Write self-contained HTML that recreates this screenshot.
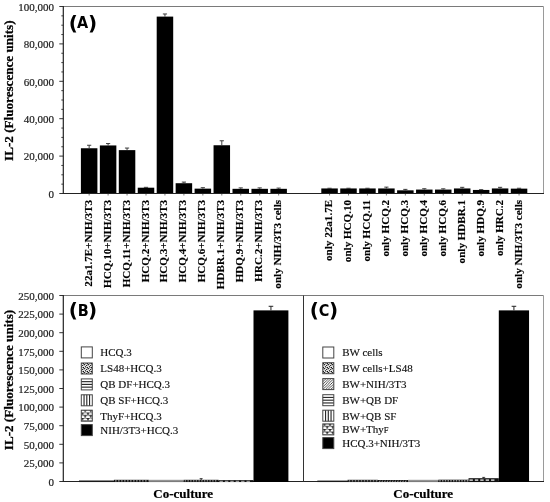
<!DOCTYPE html>
<html><head><meta charset="utf-8"><title>IL-2 co-culture</title>
<style>html,body{margin:0;padding:0;background:#fff}svg{display:block}.tk{font:11px "Liberation Serif",serif;fill:#222;stroke:#222;stroke-width:0.2;text-anchor:end}.xl{font:bold 11.1px "Liberation Serif",serif;fill:#000;stroke:#000;stroke-width:0.15}.yl{font:bold 13px "Liberation Serif",serif;fill:#000;stroke:#000;stroke-width:0.25}.cc{font:bold 13px "Liberation Serif",serif;fill:#000;stroke:#000;stroke-width:0.2;text-anchor:middle}.lg{font:11px "Liberation Serif",serif;fill:#111;stroke:#111;stroke-width:0.15}.pn{font:bold 16px "DejaVu Sans Condensed","DejaVu Sans","Liberation Sans",sans-serif;fill:#000}.pp{font:bold 20px "DejaVu Sans","Liberation Sans",sans-serif}</style></head><body>
<svg width="550" height="502" viewBox="0 0 550 502">
<defs>
<pattern id="pdot" width="4" height="4" patternUnits="userSpaceOnUse"><rect width="4" height="4" fill="#fff"/><rect x="0" y="0.1" width="1.3" height="1.2" fill="#111"/><rect x="2.1" y="0.9" width="1.2" height="1.2" fill="#111"/><rect x="0.8" y="2.2" width="1.2" height="1.2" fill="#111"/><rect x="2.9" y="2.9" width="1.1" height="1.1" fill="#111"/><rect x="1.9" y="3.3" width="0.8" height="0.7" fill="#333"/><rect x="3.3" y="0" width="0.7" height="0.7" fill="#333"/></pattern>
<pattern id="phor" width="4" height="2.75" patternUnits="userSpaceOnUse"><rect width="4" height="2.75" fill="#fff"/><rect y="0" width="4" height="1" fill="#333"/></pattern>
<pattern id="pver" width="2.75" height="4" patternUnits="userSpaceOnUse"><rect width="2.75" height="4" fill="#fff"/><rect x="0" width="1" height="4" fill="#333"/></pattern>
<pattern id="pdia" width="2.6" height="2.6" patternUnits="userSpaceOnUse"><rect width="2.6" height="2.6" fill="#fff"/><path d="M-1 1 L1 -1 M-1 3.6 L3.6 -1 M1.6 3.6 L3.6 1.6" stroke="#333" stroke-width="0.85"/></pattern>
<pattern id="pshi" width="5.5" height="5.5" patternUnits="userSpaceOnUse"><rect width="5.5" height="5.5" fill="#222"/><path d="M0.4 2.6 A2.3 2.3 0 0 1 5.1 2.6 Z" fill="#fff"/><path d="M-2.35 5.4 A2.3 2.3 0 0 1 2.35 5.4 Z M3.15 5.4 A2.3 2.3 0 0 1 7.85 5.4 Z" fill="#fff"/></pattern>
</defs>
<rect width="550" height="502" fill="#fff"/>
<line x1="63.30" y1="6.50" x2="543.50" y2="6.50" stroke="#7a7a7a" stroke-width="1"/>
<line x1="543.50" y1="6.50" x2="543.50" y2="193.50" stroke="#9a9a9a" stroke-width="1"/>
<line x1="59.30" y1="193.50" x2="63.30" y2="193.50" stroke="#333" stroke-width="1"/>
<text class="tk" x="54" y="197.70">0</text>
<line x1="61.30" y1="184.15" x2="63.30" y2="184.15" stroke="#444" stroke-width="1"/>
<line x1="61.30" y1="174.80" x2="63.30" y2="174.80" stroke="#444" stroke-width="1"/>
<line x1="61.30" y1="165.45" x2="63.30" y2="165.45" stroke="#444" stroke-width="1"/>
<line x1="59.30" y1="156.10" x2="63.30" y2="156.10" stroke="#333" stroke-width="1"/>
<text class="tk" x="54" y="160.30">20,000</text>
<line x1="61.30" y1="146.75" x2="63.30" y2="146.75" stroke="#444" stroke-width="1"/>
<line x1="61.30" y1="137.40" x2="63.30" y2="137.40" stroke="#444" stroke-width="1"/>
<line x1="61.30" y1="128.05" x2="63.30" y2="128.05" stroke="#444" stroke-width="1"/>
<line x1="59.30" y1="118.70" x2="63.30" y2="118.70" stroke="#333" stroke-width="1"/>
<text class="tk" x="54" y="122.90">40,000</text>
<line x1="61.30" y1="109.35" x2="63.30" y2="109.35" stroke="#444" stroke-width="1"/>
<line x1="61.30" y1="100.00" x2="63.30" y2="100.00" stroke="#444" stroke-width="1"/>
<line x1="61.30" y1="90.65" x2="63.30" y2="90.65" stroke="#444" stroke-width="1"/>
<line x1="59.30" y1="81.30" x2="63.30" y2="81.30" stroke="#333" stroke-width="1"/>
<text class="tk" x="54" y="85.50">60,000</text>
<line x1="61.30" y1="71.95" x2="63.30" y2="71.95" stroke="#444" stroke-width="1"/>
<line x1="61.30" y1="62.60" x2="63.30" y2="62.60" stroke="#444" stroke-width="1"/>
<line x1="61.30" y1="53.25" x2="63.30" y2="53.25" stroke="#444" stroke-width="1"/>
<line x1="59.30" y1="43.90" x2="63.30" y2="43.90" stroke="#333" stroke-width="1"/>
<text class="tk" x="54" y="48.10">80,000</text>
<line x1="61.30" y1="34.55" x2="63.30" y2="34.55" stroke="#444" stroke-width="1"/>
<line x1="61.30" y1="25.20" x2="63.30" y2="25.20" stroke="#444" stroke-width="1"/>
<line x1="61.30" y1="15.85" x2="63.30" y2="15.85" stroke="#444" stroke-width="1"/>
<line x1="59.30" y1="6.50" x2="63.30" y2="6.50" stroke="#333" stroke-width="1"/>
<text class="tk" x="54" y="10.70">100,000</text>
<rect x="80.90" y="148.25" width="16.50" height="45.75" fill="#000"/>
<line x1="89.15" y1="145.25" x2="89.15" y2="148.25" stroke="#2a2a2a" stroke-width="0.9"/>
<line x1="87.05" y1="145.25" x2="91.25" y2="145.25" stroke="#2a2a2a" stroke-width="0.9"/>
<line x1="89.15" y1="193.50" x2="89.15" y2="195.50" stroke="#666" stroke-width="0.9"/>
<text class="xl" text-anchor="end" transform="translate(91.65,199.9) rotate(-90)">22a1.7E+NIH/3T3</text>
<rect x="99.85" y="145.44" width="16.50" height="48.56" fill="#000"/>
<line x1="108.10" y1="143.57" x2="108.10" y2="145.44" stroke="#2a2a2a" stroke-width="0.9"/>
<line x1="106.00" y1="143.57" x2="110.20" y2="143.57" stroke="#2a2a2a" stroke-width="0.9"/>
<line x1="108.10" y1="193.50" x2="108.10" y2="195.50" stroke="#666" stroke-width="0.9"/>
<text class="xl" text-anchor="end" transform="translate(110.60,199.9) rotate(-90)">HCQ.10+NIH/3T3</text>
<rect x="118.80" y="150.12" width="16.50" height="43.88" fill="#000"/>
<line x1="127.05" y1="148.06" x2="127.05" y2="150.12" stroke="#2a2a2a" stroke-width="0.9"/>
<line x1="124.95" y1="148.06" x2="129.15" y2="148.06" stroke="#2a2a2a" stroke-width="0.9"/>
<line x1="127.05" y1="193.50" x2="127.05" y2="195.50" stroke="#666" stroke-width="0.9"/>
<text class="xl" text-anchor="end" transform="translate(129.55,199.9) rotate(-90)">HCQ.11+NIH/3T3</text>
<rect x="137.75" y="187.70" width="16.50" height="6.30" fill="#000"/>
<line x1="146.00" y1="187.33" x2="146.00" y2="187.70" stroke="#2a2a2a" stroke-width="0.9"/>
<line x1="143.90" y1="187.33" x2="148.10" y2="187.33" stroke="#2a2a2a" stroke-width="0.9"/>
<line x1="146.00" y1="193.50" x2="146.00" y2="195.50" stroke="#666" stroke-width="0.9"/>
<text class="xl" text-anchor="end" transform="translate(148.50,199.9) rotate(-90)">HCQ.2+NIH/3T3</text>
<rect x="156.70" y="16.60" width="16.50" height="177.40" fill="#000"/>
<line x1="164.95" y1="13.98" x2="164.95" y2="16.60" stroke="#2a2a2a" stroke-width="0.9"/>
<line x1="162.85" y1="13.98" x2="167.05" y2="13.98" stroke="#2a2a2a" stroke-width="0.9"/>
<line x1="164.95" y1="193.50" x2="164.95" y2="195.50" stroke="#666" stroke-width="0.9"/>
<text class="xl" text-anchor="end" transform="translate(167.45,199.9) rotate(-90)">HCQ.3+NIH/3T3</text>
<rect x="175.65" y="183.22" width="16.50" height="10.78" fill="#000"/>
<line x1="183.90" y1="182.09" x2="183.90" y2="183.22" stroke="#2a2a2a" stroke-width="0.9"/>
<line x1="181.80" y1="182.09" x2="186.00" y2="182.09" stroke="#2a2a2a" stroke-width="0.9"/>
<line x1="183.90" y1="193.50" x2="183.90" y2="195.50" stroke="#666" stroke-width="0.9"/>
<text class="xl" text-anchor="end" transform="translate(186.40,199.9) rotate(-90)">HCQ.4+NIH/3T3</text>
<rect x="194.60" y="188.64" width="16.50" height="5.36" fill="#000"/>
<line x1="202.85" y1="187.70" x2="202.85" y2="188.64" stroke="#2a2a2a" stroke-width="0.9"/>
<line x1="200.75" y1="187.70" x2="204.95" y2="187.70" stroke="#2a2a2a" stroke-width="0.9"/>
<line x1="202.85" y1="193.50" x2="202.85" y2="195.50" stroke="#666" stroke-width="0.9"/>
<text class="xl" text-anchor="end" transform="translate(205.35,199.9) rotate(-90)">HCQ.6+NIH/3T3</text>
<rect x="213.55" y="145.25" width="16.50" height="48.75" fill="#000"/>
<line x1="221.80" y1="140.77" x2="221.80" y2="145.25" stroke="#2a2a2a" stroke-width="0.9"/>
<line x1="219.70" y1="140.77" x2="223.90" y2="140.77" stroke="#2a2a2a" stroke-width="0.9"/>
<line x1="221.80" y1="193.50" x2="221.80" y2="195.50" stroke="#666" stroke-width="0.9"/>
<text class="xl" text-anchor="end" transform="translate(224.30,199.9) rotate(-90)">HDBR.1+NIH/3T3</text>
<rect x="232.50" y="188.82" width="16.50" height="5.18" fill="#000"/>
<line x1="240.75" y1="187.89" x2="240.75" y2="188.82" stroke="#2a2a2a" stroke-width="0.9"/>
<line x1="238.65" y1="187.89" x2="242.85" y2="187.89" stroke="#2a2a2a" stroke-width="0.9"/>
<line x1="240.75" y1="193.50" x2="240.75" y2="195.50" stroke="#666" stroke-width="0.9"/>
<text class="xl" text-anchor="end" transform="translate(243.25,199.9) rotate(-90)">HDQ.9+NIH/3T3</text>
<rect x="251.45" y="188.82" width="16.50" height="5.18" fill="#000"/>
<line x1="259.70" y1="187.89" x2="259.70" y2="188.82" stroke="#2a2a2a" stroke-width="0.9"/>
<line x1="257.60" y1="187.89" x2="261.80" y2="187.89" stroke="#2a2a2a" stroke-width="0.9"/>
<line x1="259.70" y1="193.50" x2="259.70" y2="195.50" stroke="#666" stroke-width="0.9"/>
<text class="xl" text-anchor="end" transform="translate(262.20,199.9) rotate(-90)">HRC.2+NIH/3T3</text>
<rect x="270.40" y="188.82" width="16.50" height="5.18" fill="#000"/>
<line x1="278.65" y1="188.08" x2="278.65" y2="188.82" stroke="#2a2a2a" stroke-width="0.9"/>
<line x1="276.55" y1="188.08" x2="280.75" y2="188.08" stroke="#2a2a2a" stroke-width="0.9"/>
<line x1="278.65" y1="193.50" x2="278.65" y2="195.50" stroke="#666" stroke-width="0.9"/>
<text class="xl" text-anchor="end" transform="translate(281.15,199.9) rotate(-90)">only NIH/3T3 cells</text>
<rect x="321.30" y="188.45" width="16.50" height="5.55" fill="#000"/>
<line x1="329.55" y1="188.26" x2="329.55" y2="188.45" stroke="#2a2a2a" stroke-width="0.9"/>
<line x1="327.45" y1="188.26" x2="331.65" y2="188.26" stroke="#2a2a2a" stroke-width="0.9"/>
<line x1="329.55" y1="193.50" x2="329.55" y2="195.50" stroke="#666" stroke-width="0.9"/>
<text class="xl" text-anchor="end" transform="translate(332.05,199.9) rotate(-90)">only 22a1.7E</text>
<rect x="340.25" y="188.45" width="16.50" height="5.55" fill="#000"/>
<line x1="348.50" y1="188.26" x2="348.50" y2="188.45" stroke="#2a2a2a" stroke-width="0.9"/>
<line x1="346.40" y1="188.26" x2="350.60" y2="188.26" stroke="#2a2a2a" stroke-width="0.9"/>
<line x1="348.50" y1="193.50" x2="348.50" y2="195.50" stroke="#666" stroke-width="0.9"/>
<text class="xl" text-anchor="end" transform="translate(351.00,199.9) rotate(-90)">only HCQ.10</text>
<rect x="359.20" y="188.45" width="16.50" height="5.55" fill="#000"/>
<line x1="367.45" y1="188.26" x2="367.45" y2="188.45" stroke="#2a2a2a" stroke-width="0.9"/>
<line x1="365.35" y1="188.26" x2="369.55" y2="188.26" stroke="#2a2a2a" stroke-width="0.9"/>
<line x1="367.45" y1="193.50" x2="367.45" y2="195.50" stroke="#666" stroke-width="0.9"/>
<text class="xl" text-anchor="end" transform="translate(369.95,199.9) rotate(-90)">only HCQ.11</text>
<rect x="378.15" y="188.45" width="16.50" height="5.55" fill="#000"/>
<line x1="386.40" y1="187.14" x2="386.40" y2="188.45" stroke="#2a2a2a" stroke-width="0.9"/>
<line x1="384.30" y1="187.14" x2="388.50" y2="187.14" stroke="#2a2a2a" stroke-width="0.9"/>
<line x1="386.40" y1="193.50" x2="386.40" y2="195.50" stroke="#666" stroke-width="0.9"/>
<text class="xl" text-anchor="end" transform="translate(388.90,199.9) rotate(-90)">only HCQ.2</text>
<rect x="397.10" y="190.32" width="16.50" height="3.68" fill="#000"/>
<line x1="405.35" y1="189.39" x2="405.35" y2="190.32" stroke="#2a2a2a" stroke-width="0.9"/>
<line x1="403.25" y1="189.39" x2="407.45" y2="189.39" stroke="#2a2a2a" stroke-width="0.9"/>
<line x1="405.35" y1="193.50" x2="405.35" y2="195.50" stroke="#666" stroke-width="0.9"/>
<text class="xl" text-anchor="end" transform="translate(407.85,199.9) rotate(-90)">only HCQ.3</text>
<rect x="416.05" y="189.57" width="16.50" height="4.43" fill="#000"/>
<line x1="424.30" y1="188.73" x2="424.30" y2="189.57" stroke="#2a2a2a" stroke-width="0.9"/>
<line x1="422.20" y1="188.73" x2="426.40" y2="188.73" stroke="#2a2a2a" stroke-width="0.9"/>
<line x1="424.30" y1="193.50" x2="424.30" y2="195.50" stroke="#666" stroke-width="0.9"/>
<text class="xl" text-anchor="end" transform="translate(426.80,199.9) rotate(-90)">only HCQ.4</text>
<rect x="435.00" y="189.57" width="16.50" height="4.43" fill="#000"/>
<line x1="443.25" y1="188.82" x2="443.25" y2="189.57" stroke="#2a2a2a" stroke-width="0.9"/>
<line x1="441.15" y1="188.82" x2="445.35" y2="188.82" stroke="#2a2a2a" stroke-width="0.9"/>
<line x1="443.25" y1="193.50" x2="443.25" y2="195.50" stroke="#666" stroke-width="0.9"/>
<text class="xl" text-anchor="end" transform="translate(445.75,199.9) rotate(-90)">only HCQ.6</text>
<rect x="453.95" y="188.45" width="16.50" height="5.55" fill="#000"/>
<line x1="462.20" y1="187.33" x2="462.20" y2="188.45" stroke="#2a2a2a" stroke-width="0.9"/>
<line x1="460.10" y1="187.33" x2="464.30" y2="187.33" stroke="#2a2a2a" stroke-width="0.9"/>
<line x1="462.20" y1="193.50" x2="462.20" y2="195.50" stroke="#666" stroke-width="0.9"/>
<text class="xl" text-anchor="end" transform="translate(464.70,199.9) rotate(-90)">only HDBR.1</text>
<rect x="472.90" y="189.95" width="16.50" height="4.05" fill="#000"/>
<line x1="481.15" y1="189.67" x2="481.15" y2="189.95" stroke="#2a2a2a" stroke-width="0.9"/>
<line x1="479.05" y1="189.67" x2="483.25" y2="189.67" stroke="#2a2a2a" stroke-width="0.9"/>
<line x1="481.15" y1="193.50" x2="481.15" y2="195.50" stroke="#666" stroke-width="0.9"/>
<text class="xl" text-anchor="end" transform="translate(483.65,199.9) rotate(-90)">only HDQ.9</text>
<rect x="491.85" y="188.45" width="16.50" height="5.55" fill="#000"/>
<line x1="500.10" y1="187.33" x2="500.10" y2="188.45" stroke="#2a2a2a" stroke-width="0.9"/>
<line x1="498.00" y1="187.33" x2="502.20" y2="187.33" stroke="#2a2a2a" stroke-width="0.9"/>
<line x1="500.10" y1="193.50" x2="500.10" y2="195.50" stroke="#666" stroke-width="0.9"/>
<text class="xl" text-anchor="end" transform="translate(502.60,199.9) rotate(-90)">only HRC.2</text>
<rect x="510.80" y="188.64" width="16.50" height="5.36" fill="#000"/>
<line x1="519.05" y1="188.26" x2="519.05" y2="188.64" stroke="#2a2a2a" stroke-width="0.9"/>
<line x1="516.95" y1="188.26" x2="521.15" y2="188.26" stroke="#2a2a2a" stroke-width="0.9"/>
<line x1="519.05" y1="193.50" x2="519.05" y2="195.50" stroke="#666" stroke-width="0.9"/>
<text class="xl" text-anchor="end" transform="translate(521.55,199.9) rotate(-90)">only NIH/3T3 cells</text>
<line x1="63.30" y1="6.00" x2="63.30" y2="194.00" stroke="#222" stroke-width="1.2"/>
<line x1="62.80" y1="193.50" x2="544.00" y2="193.50" stroke="#222" stroke-width="1.1"/>
<text class="yl" transform="translate(13.4,160.9) rotate(-90)" textLength="140.4" lengthAdjust="spacingAndGlyphs">IL-2 (Fluorescence units)</text>
<text class="pn" y="27.7"><tspan class="pp" x="68.8" dy="1.8">(</tspan><tspan x="77.0" dy="-1.8">A</tspan><tspan class="pp" x="88.1" dy="1.8">)</tspan></text>
<line x1="63.30" y1="295.50" x2="543.50" y2="295.50" stroke="#7a7a7a" stroke-width="1"/>
<line x1="543.50" y1="295.50" x2="543.50" y2="481.50" stroke="#9a9a9a" stroke-width="1"/>
<line x1="59.30" y1="481.50" x2="63.30" y2="481.50" stroke="#333" stroke-width="1"/>
<text class="tk" x="54" y="485.80">0</text>
<line x1="59.30" y1="462.90" x2="63.30" y2="462.90" stroke="#333" stroke-width="1"/>
<text class="tk" x="54" y="467.20">25,000</text>
<line x1="59.30" y1="444.30" x2="63.30" y2="444.30" stroke="#333" stroke-width="1"/>
<text class="tk" x="54" y="448.60">50,000</text>
<line x1="59.30" y1="425.70" x2="63.30" y2="425.70" stroke="#333" stroke-width="1"/>
<text class="tk" x="54" y="430.00">75,000</text>
<line x1="59.30" y1="407.10" x2="63.30" y2="407.10" stroke="#333" stroke-width="1"/>
<text class="tk" x="54" y="411.40">100,000</text>
<line x1="59.30" y1="388.50" x2="63.30" y2="388.50" stroke="#333" stroke-width="1"/>
<text class="tk" x="54" y="392.80">125,000</text>
<line x1="59.30" y1="369.90" x2="63.30" y2="369.90" stroke="#333" stroke-width="1"/>
<text class="tk" x="54" y="374.20">150,000</text>
<line x1="59.30" y1="351.30" x2="63.30" y2="351.30" stroke="#333" stroke-width="1"/>
<text class="tk" x="54" y="355.60">175,000</text>
<line x1="59.30" y1="332.70" x2="63.30" y2="332.70" stroke="#333" stroke-width="1"/>
<text class="tk" x="54" y="337.00">200,000</text>
<line x1="59.30" y1="314.10" x2="63.30" y2="314.10" stroke="#333" stroke-width="1"/>
<text class="tk" x="54" y="318.40">225,000</text>
<line x1="59.30" y1="295.50" x2="63.30" y2="295.50" stroke="#333" stroke-width="1"/>
<text class="tk" x="54" y="299.80">250,000</text>
<line x1="62.80" y1="481.50" x2="544.00" y2="481.50" stroke="#222" stroke-width="1.1"/>
<rect x="79.00" y="480.50" width="34.90" height="1.55" fill="#1a1a1a"/>
<rect x="113.90" y="479.80" width="34.90" height="2.25" fill="#111"/>
<rect x="115.10" y="480.55" width="1.50" height="0.75" fill="#fff"/>
<rect x="118.10" y="480.55" width="1.50" height="0.75" fill="#fff"/>
<rect x="121.10" y="480.55" width="1.50" height="0.75" fill="#fff"/>
<rect x="124.10" y="480.55" width="1.50" height="0.75" fill="#fff"/>
<rect x="127.10" y="480.55" width="1.50" height="0.75" fill="#fff"/>
<rect x="130.10" y="480.55" width="1.50" height="0.75" fill="#fff"/>
<rect x="133.10" y="480.55" width="1.50" height="0.75" fill="#fff"/>
<rect x="136.10" y="480.55" width="1.50" height="0.75" fill="#fff"/>
<rect x="139.10" y="480.55" width="1.50" height="0.75" fill="#fff"/>
<rect x="142.10" y="480.55" width="1.50" height="0.75" fill="#fff"/>
<rect x="145.10" y="480.55" width="1.50" height="0.75" fill="#fff"/>
<rect x="148.80" y="479.90" width="34.90" height="2.15" fill="#b4b4b4"/>
<rect x="148.80" y="479.90" width="34.90" height="0.70" fill="#808080"/>
<rect x="148.80" y="481.25" width="34.90" height="0.80" fill="#6a6a6a"/>
<rect x="183.70" y="479.80" width="34.90" height="2.25" fill="#111"/>
<rect x="184.70" y="480.55" width="1.40" height="0.75" fill="#fff"/>
<rect x="187.45" y="480.55" width="1.40" height="0.75" fill="#fff"/>
<rect x="190.20" y="480.55" width="1.40" height="0.75" fill="#fff"/>
<rect x="192.95" y="480.55" width="1.40" height="0.75" fill="#fff"/>
<rect x="195.70" y="480.55" width="1.40" height="0.75" fill="#fff"/>
<rect x="198.45" y="480.55" width="1.40" height="0.75" fill="#fff"/>
<rect x="201.20" y="480.55" width="1.40" height="0.75" fill="#fff"/>
<rect x="203.95" y="480.55" width="1.40" height="0.75" fill="#fff"/>
<rect x="206.70" y="480.55" width="1.40" height="0.75" fill="#fff"/>
<rect x="209.45" y="480.55" width="1.40" height="0.75" fill="#fff"/>
<rect x="212.20" y="480.55" width="1.40" height="0.75" fill="#fff"/>
<rect x="214.95" y="480.55" width="1.40" height="0.75" fill="#fff"/>
<rect x="218.60" y="480.10" width="34.90" height="1.95" fill="#111"/>
<rect x="219.50" y="480.85" width="3.40" height="0.70" fill="#fff"/>
<rect x="224.90" y="480.85" width="3.40" height="0.70" fill="#fff"/>
<rect x="230.30" y="480.85" width="3.40" height="0.70" fill="#fff"/>
<rect x="235.70" y="480.85" width="3.40" height="0.70" fill="#fff"/>
<rect x="241.10" y="480.85" width="3.40" height="0.70" fill="#fff"/>
<rect x="246.50" y="480.85" width="3.40" height="0.70" fill="#fff"/>
<rect x="253.50" y="310.38" width="34.90" height="171.62" fill="#000"/>
<line x1="270.95" y1="306.29" x2="270.95" y2="310.38" stroke="#222" stroke-width="1"/>
<line x1="268.65" y1="306.29" x2="273.25" y2="306.29" stroke="#222" stroke-width="1"/>
<line x1="201.15" y1="478.50" x2="201.15" y2="480.00" stroke="#222" stroke-width="1"/>
<line x1="199.65" y1="478.60" x2="202.65" y2="478.60" stroke="#222" stroke-width="0.8"/>
<rect x="317.30" y="480.60" width="30.25" height="1.45" fill="#1a1a1a"/>
<rect x="347.55" y="479.80" width="30.25" height="2.25" fill="#111"/>
<rect x="348.75" y="480.55" width="1.50" height="0.75" fill="#fff"/>
<rect x="351.75" y="480.55" width="1.50" height="0.75" fill="#fff"/>
<rect x="354.75" y="480.55" width="1.50" height="0.75" fill="#fff"/>
<rect x="357.75" y="480.55" width="1.50" height="0.75" fill="#fff"/>
<rect x="360.75" y="480.55" width="1.50" height="0.75" fill="#fff"/>
<rect x="363.75" y="480.55" width="1.50" height="0.75" fill="#fff"/>
<rect x="366.75" y="480.55" width="1.50" height="0.75" fill="#fff"/>
<rect x="369.75" y="480.55" width="1.50" height="0.75" fill="#fff"/>
<rect x="372.75" y="480.55" width="1.50" height="0.75" fill="#fff"/>
<rect x="375.75" y="480.55" width="1.50" height="0.75" fill="#fff"/>
<rect x="377.80" y="480.00" width="30.25" height="2.05" fill="#111"/>
<path d="M378.70 481.45 l1.30 0 l0.8 -0.70 l-1.30 0 Z" fill="#fff"/>
<path d="M381.30 481.45 l1.30 0 l0.8 -0.70 l-1.30 0 Z" fill="#fff"/>
<path d="M383.90 481.45 l1.30 0 l0.8 -0.70 l-1.30 0 Z" fill="#fff"/>
<path d="M386.50 481.45 l1.30 0 l0.8 -0.70 l-1.30 0 Z" fill="#fff"/>
<path d="M389.10 481.45 l1.30 0 l0.8 -0.70 l-1.30 0 Z" fill="#fff"/>
<path d="M391.70 481.45 l1.30 0 l0.8 -0.70 l-1.30 0 Z" fill="#fff"/>
<path d="M394.30 481.45 l1.30 0 l0.8 -0.70 l-1.30 0 Z" fill="#fff"/>
<path d="M396.90 481.45 l1.30 0 l0.8 -0.70 l-1.30 0 Z" fill="#fff"/>
<path d="M399.50 481.45 l1.30 0 l0.8 -0.70 l-1.30 0 Z" fill="#fff"/>
<path d="M402.10 481.45 l1.30 0 l0.8 -0.70 l-1.30 0 Z" fill="#fff"/>
<path d="M404.70 481.45 l1.30 0 l0.8 -0.70 l-1.30 0 Z" fill="#fff"/>
<rect x="408.05" y="479.90" width="30.25" height="2.15" fill="#b4b4b4"/>
<rect x="408.05" y="479.90" width="30.25" height="0.70" fill="#808080"/>
<rect x="408.05" y="481.25" width="30.25" height="0.80" fill="#6a6a6a"/>
<rect x="438.30" y="479.70" width="30.25" height="2.35" fill="#111"/>
<rect x="439.30" y="480.45" width="1.40" height="0.85" fill="#fff"/>
<rect x="442.05" y="480.45" width="1.40" height="0.85" fill="#fff"/>
<rect x="444.80" y="480.45" width="1.40" height="0.85" fill="#fff"/>
<rect x="447.55" y="480.45" width="1.40" height="0.85" fill="#fff"/>
<rect x="450.30" y="480.45" width="1.40" height="0.85" fill="#fff"/>
<rect x="453.05" y="480.45" width="1.40" height="0.85" fill="#fff"/>
<rect x="455.80" y="480.45" width="1.40" height="0.85" fill="#fff"/>
<rect x="458.55" y="480.45" width="1.40" height="0.85" fill="#fff"/>
<rect x="461.30" y="480.45" width="1.40" height="0.85" fill="#fff"/>
<rect x="464.05" y="480.45" width="1.40" height="0.85" fill="#fff"/>
<rect x="466.80" y="480.45" width="1.40" height="0.85" fill="#fff"/>
<rect x="468.55" y="478.20" width="30.25" height="3.85" fill="#111"/>
<rect x="469.45" y="479.50" width="3.40" height="1.20" fill="#fff"/>
<rect x="474.85" y="479.50" width="3.40" height="1.20" fill="#fff"/>
<rect x="480.25" y="479.50" width="3.40" height="1.20" fill="#fff"/>
<rect x="485.65" y="479.50" width="3.40" height="1.20" fill="#fff"/>
<rect x="491.05" y="479.50" width="3.40" height="1.20" fill="#fff"/>
<rect x="498.80" y="310.38" width="30.25" height="171.62" fill="#000"/>
<line x1="513.92" y1="306.29" x2="513.92" y2="310.38" stroke="#222" stroke-width="1"/>
<line x1="511.62" y1="306.29" x2="516.22" y2="306.29" stroke="#222" stroke-width="1"/>
<line x1="483.68" y1="477.20" x2="483.68" y2="478.40" stroke="#222" stroke-width="1"/>
<line x1="482.18" y1="477.40" x2="485.18" y2="477.40" stroke="#222" stroke-width="0.8"/>
<line x1="63.30" y1="295.00" x2="63.30" y2="482.00" stroke="#222" stroke-width="1.2"/>
<line x1="303.50" y1="295.50" x2="303.50" y2="481.50" stroke="#333" stroke-width="1"/>
<text class="yl" transform="translate(13.4,450.2) rotate(-90)" textLength="140.4" lengthAdjust="spacingAndGlyphs">IL-2 (Fluorescence units)</text>
<text class="pn" y="315.6"><tspan class="pp" x="68.8" dy="1.8">(</tspan><tspan x="77.8" dy="-1.8">B</tspan><tspan class="pp" x="88.1" dy="1.8">)</tspan></text>
<text class="pn" y="315.6"><tspan class="pp" x="309.8" dy="1.8">(</tspan><tspan x="318.8" dy="-1.8">C</tspan><tspan class="pp" x="329.1" dy="1.8">)</tspan></text>
<text class="cc" x="183.2" y="497.6">Co-culture</text>
<text class="cc" x="423.2" y="497.6">Co-culture</text>
<rect x="81.30" y="346.90" width="11.00" height="11.00" fill="#fff" stroke="#444" stroke-width="1"/>
<text class="lg" x="100.3" y="356.20">HCQ.3</text>
<rect x="81.30" y="363.00" width="11.00" height="11.00" fill="url(#pdot)" stroke="#444" stroke-width="1"/>
<text class="lg" x="100.3" y="372.30">LS48+HCQ.3</text>
<rect x="81.30" y="378.90" width="11.00" height="11.00" fill="#fff"/>
<line x1="81.30" y1="381.65" x2="92.30" y2="381.65" stroke="#2a2a2a" stroke-width="1.15"/>
<line x1="81.30" y1="384.40" x2="92.30" y2="384.40" stroke="#2a2a2a" stroke-width="1.15"/>
<line x1="81.30" y1="387.15" x2="92.30" y2="387.15" stroke="#2a2a2a" stroke-width="1.15"/>
<rect x="81.30" y="378.90" width="11.00" height="11.00" fill="none" stroke="#444" stroke-width="1"/>
<text class="lg" x="100.3" y="388.20">QB DF+HCQ.3</text>
<rect x="81.30" y="394.80" width="11.00" height="11.00" fill="#fff"/>
<line x1="84.05" y1="394.80" x2="84.05" y2="405.80" stroke="#2a2a2a" stroke-width="1.15"/>
<line x1="86.80" y1="394.80" x2="86.80" y2="405.80" stroke="#2a2a2a" stroke-width="1.15"/>
<line x1="89.55" y1="394.80" x2="89.55" y2="405.80" stroke="#2a2a2a" stroke-width="1.15"/>
<rect x="81.30" y="394.80" width="11.00" height="11.00" fill="none" stroke="#444" stroke-width="1"/>
<text class="lg" x="100.3" y="404.10">QB SF+HCQ.3</text>
<rect x="81.30" y="410.20" width="11.00" height="11.00" fill="url(#pshi)" stroke="#444" stroke-width="1"/>
<text class="lg" x="100.3" y="419.50">ThyF+HCQ.3</text>
<rect x="81.30" y="424.60" width="11.00" height="11.00" fill="#000" stroke="#444" stroke-width="1"/>
<text class="lg" x="100.3" y="433.90">NIH/3T3+HCQ.3</text>
<rect x="322.80" y="347.00" width="11.00" height="11.00" fill="#fff" stroke="#444" stroke-width="1"/>
<text class="lg" x="342.2" y="356.30">BW cells</text>
<rect x="322.80" y="362.70" width="11.00" height="11.00" fill="url(#pdot)" stroke="#444" stroke-width="1"/>
<text class="lg" x="342.2" y="372.00">BW cells+LS48</text>
<rect x="322.80" y="378.60" width="11.00" height="11.00" fill="url(#pdia)" stroke="#444" stroke-width="1"/>
<text class="lg" x="342.2" y="387.90">BW+NIH/3T3</text>
<rect x="322.80" y="394.70" width="11.00" height="11.00" fill="#fff"/>
<line x1="322.80" y1="397.45" x2="333.80" y2="397.45" stroke="#2a2a2a" stroke-width="1.15"/>
<line x1="322.80" y1="400.20" x2="333.80" y2="400.20" stroke="#2a2a2a" stroke-width="1.15"/>
<line x1="322.80" y1="402.95" x2="333.80" y2="402.95" stroke="#2a2a2a" stroke-width="1.15"/>
<rect x="322.80" y="394.70" width="11.00" height="11.00" fill="none" stroke="#444" stroke-width="1"/>
<text class="lg" x="342.2" y="404.00">BW+QB DF</text>
<rect x="322.80" y="410.20" width="11.00" height="11.00" fill="#fff"/>
<line x1="325.55" y1="410.20" x2="325.55" y2="421.20" stroke="#2a2a2a" stroke-width="1.15"/>
<line x1="328.30" y1="410.20" x2="328.30" y2="421.20" stroke="#2a2a2a" stroke-width="1.15"/>
<line x1="331.05" y1="410.20" x2="331.05" y2="421.20" stroke="#2a2a2a" stroke-width="1.15"/>
<rect x="322.80" y="410.20" width="11.00" height="11.00" fill="none" stroke="#444" stroke-width="1"/>
<text class="lg" x="342.2" y="419.50">BW+QB SF</text>
<rect x="322.80" y="423.90" width="11.00" height="11.00" fill="url(#pshi)" stroke="#444" stroke-width="1"/>
<text class="lg" x="342.2" y="433.20">BW+Thy<tspan font-size="8.5">F</tspan></text>
<rect x="322.80" y="437.60" width="11.00" height="11.00" fill="#000" stroke="#444" stroke-width="1"/>
<text class="lg" x="342.2" y="446.90">HCQ.3+NIH/3T3</text>
</svg></body></html>
